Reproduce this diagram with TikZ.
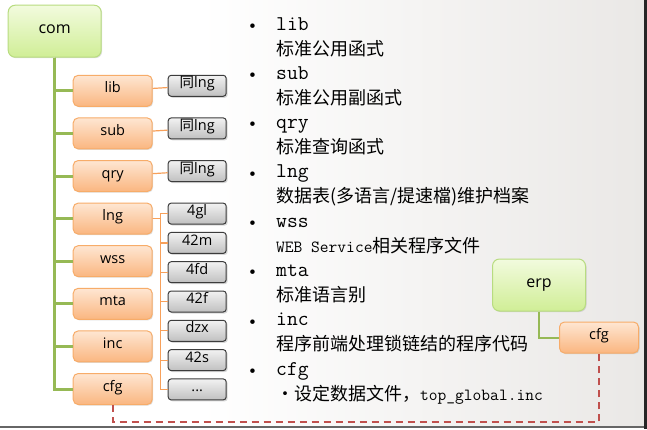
\documentclass[tikz,border=0pt]{standalone}
\usepackage{fontspec}
\newfontfamily\boxfont{Open Sans}
\newfontfamily\cjk{Noto Sans CJK SC}
\usetikzlibrary{graphs,positioning,shadows}
\definecolor{roottop}{RGB}{242,251,222}
\definecolor{rootbottom}{RGB}{208,238,150}
\definecolor{rootline}{RGB}{184,220,128}
\definecolor{leaftop}{RGB}{254,230,210}
\definecolor{leafbottom}{RGB}{250,182,128}
\definecolor{leafline}{RGB}{247,172,105}
\definecolor{filetop}{RGB}{242,242,242}
\definecolor{filebottom}{RGB}{192,192,192}
\definecolor{fileline}{RGB}{60,60,60}
\definecolor{trunkgreen}{RGB}{150,185,85}
\definecolor{twigorange}{RGB}{247,160,90}
\definecolor{linkred}{RGB}{192,80,77}
\definecolor{paper}{RGB}{234,232,230}
\tikzstyle{root} = [minimum height=52pt, minimum width=93pt, text centered, rounded corners=7pt, draw=rootline, line width=1pt, top color=roottop, bottom color=rootbottom, font=\boxfont\fontsize{16}{18}\selectfont, text height=1.5ex, text depth=.5ex, drop shadow={shadow xshift=1pt, shadow yshift=-1pt, opacity=.25}]
\tikzstyle{leaf} = [minimum height=31pt, minimum width=79pt, text centered, rounded corners=5pt, draw=leafline, line width=1pt, top color=leaftop, bottom color=leafbottom, font=\boxfont\fontsize{14.5}{16}\selectfont, text height=1.5ex, text depth=.5ex, drop shadow={shadow xshift=1pt, shadow yshift=-1pt, opacity=.25}]
\tikzstyle{file} = [minimum height=21pt, minimum width=58pt, text centered, rounded corners=3pt, draw=fileline, line width=1pt, top color=filetop, bottom color=filebottom, font=\boxfont\fontsize{14.5}{16}\selectfont, text height=1.5ex, text depth=.5ex, drop shadow={shadow xshift=1.5pt, shadow yshift=-1.5pt, opacity=.3}]
\tikzstyle{head} = [anchor=base west, inner sep=0pt, font=\ttfamily\fontsize{21}{22}\selectfont, text height=.7em, text depth=.2em, label={[font=\rmfamily\fontsize{20}{20}\selectfont, inner sep=0pt, label distance=16pt]left:\textbullet}]
\tikzstyle{desc} = [anchor=base west, inner sep=0pt, font=\cjk\fontsize{18}{20}\selectfont]
\tikzstyle{trunk} = [draw=trunkgreen, line width=3pt]
\tikzstyle{twig} = [draw=twigorange, line width=1.2pt]
\tikzstyle{link} = [draw=linkred, line width=1.8pt, dash pattern=on 7pt off 5pt]

\begin{document}
\begin{tikzpicture}[x=1pt, y=-1pt]
    \useasboundingbox (0,0) rectangle (647,429);
    \fill[white] (0,0) rectangle (647,429);
    \shade[left color=white, right color=paper] (200,0) rectangle (644,426);
    \fill[black!85] (644,0) rectangle (647,429);
    \fill[black!60] (0,426) rectangle (644,428);

    \matrix[row sep=10.6pt, column sep=-29pt, inner sep=0pt, anchor=north west] (tree) at (7.5,4.5) {
        \node[root](com){com}; \\[6.5pt]
        & \node[leaf](lib){lib}; &[44pt] \node[file](lib2){{\cjk 同}lng}; \\
        & \node[leaf](sub){sub}; & \node[file](sub2){{\cjk 同}lng}; \\
        & \node[leaf](qry){qry}; & \node[file](qry2){{\cjk 同}lng}; \\
        & \node[leaf](lng){lng}; & \node[file](lng1){4gl}; \\
        & \node[leaf](wss){wss}; \\
        & \node[leaf](mta){mta}; \\
        & \node[leaf](inc){inc}; \\
        & \node[leaf](cfg){cfg}; \\
    };
    \node[file, below=7.3pt of lng1](lng2){42m};
    \node[file, below=7.3pt of lng2](lng3){4fd};
    \node[file, below=7.3pt of lng3](lng4){42f};
    \node[file, below=7.3pt of lng4](lng5){dzx};
    \node[file, below=7.3pt of lng5](lng6){42s};
    \node[file, below=7.3pt of lng6](lng7){...};

    \node[root](erp) at (539,285){erp};
    \node[leaf](cfg2) at (599,337.5){cfg};

    \graph {
        (com) --[to path={|- (\tikztotarget)}, trunk] (lib);
        (com) --[to path={|- (\tikztotarget)}, trunk] (sub);
        (com) --[to path={|- (\tikztotarget)}, trunk] (qry);
        (com) --[to path={|- (\tikztotarget)}, trunk] (lng);
        (com) --[to path={|- (\tikztotarget)}, trunk] (wss);
        (com) --[to path={|- (\tikztotarget)}, trunk] (mta);
        (com) --[to path={|- (\tikztotarget)}, trunk] (inc);
        (com) --[to path={|- (\tikztotarget)}, trunk] (cfg);
        (lib) --[twig] (lib2);
        (sub) --[twig] (sub2);
        (qry) --[twig] (qry2);
        (lng) --[to path={(\tikztostart.east) -- ++(8,0) |- (\tikztotarget)}, twig] (lng1);
        (lng) --[to path={(\tikztostart.east) -- ++(8,0) |- (\tikztotarget)}, twig] (lng2);
        (lng) --[to path={(\tikztostart.east) -- ++(8,0) |- (\tikztotarget)}, twig] (lng3);
        (lng) --[to path={(\tikztostart.east) -- ++(8,0) |- (\tikztotarget)}, twig] (lng4);
        (lng) --[to path={(\tikztostart.east) -- ++(8,0) |- (\tikztotarget)}, twig] (lng5);
        (lng) --[to path={(\tikztostart.east) -- ++(8,0) |- (\tikztotarget)}, twig] (lng6);
        (lng) --[to path={(\tikztostart.east) -- ++(8,0) |- (\tikztotarget)}, twig] (lng7);
        (erp) --[to path={|- (\tikztotarget)}, trunk, line width=2pt] (cfg2);
        (cfg) --[to path={(\tikztostart.south) -- ++(0,17) -| (\tikztotarget.south)}, link] (cfg2);
    };

    % notes on the right
    \node[head](hlib) at (276,30){lib};
    \node[desc](dlib) at (276,55){标准公用函式};
    \node[head](hsub) at (276,79.3){sub};
    \node[desc](dsub) at (276,104.3){标准公用副函式};
    \node[head](hqry) at (276,128.6){qry};
    \node[desc](dqry) at (276,153.6){标准查询函式};
    \node[head](hlng) at (276,177.9){lng};
    \node[desc](dlng) at (276,202.9){数据表(多语言/提速檔)维护档案};
    \node[head](hwss) at (276,227.2){wss};
    \node[desc](dwss) at (276,252.2){{\ttfamily\fontsize{17}{20}\selectfont WEB Service}相关程序文件};
    \node[head](hmta) at (276,276.5){mta};
    \node[desc](dmta) at (276,301.5){标准语言别};
    \node[head](hinc) at (276,325.8){inc};
    \node[desc](dinc) at (276,350.8){程序前端处理锁链结的程序代码};
    \node[head](hcfg) at (276,375.1){cfg};
    \node[desc](dcfg) at (276,400.1){•设定数据文件，{\ttfamily\fontsize{17}{20}\selectfont top\_global.inc}};
\end{tikzpicture}
\end{document}
